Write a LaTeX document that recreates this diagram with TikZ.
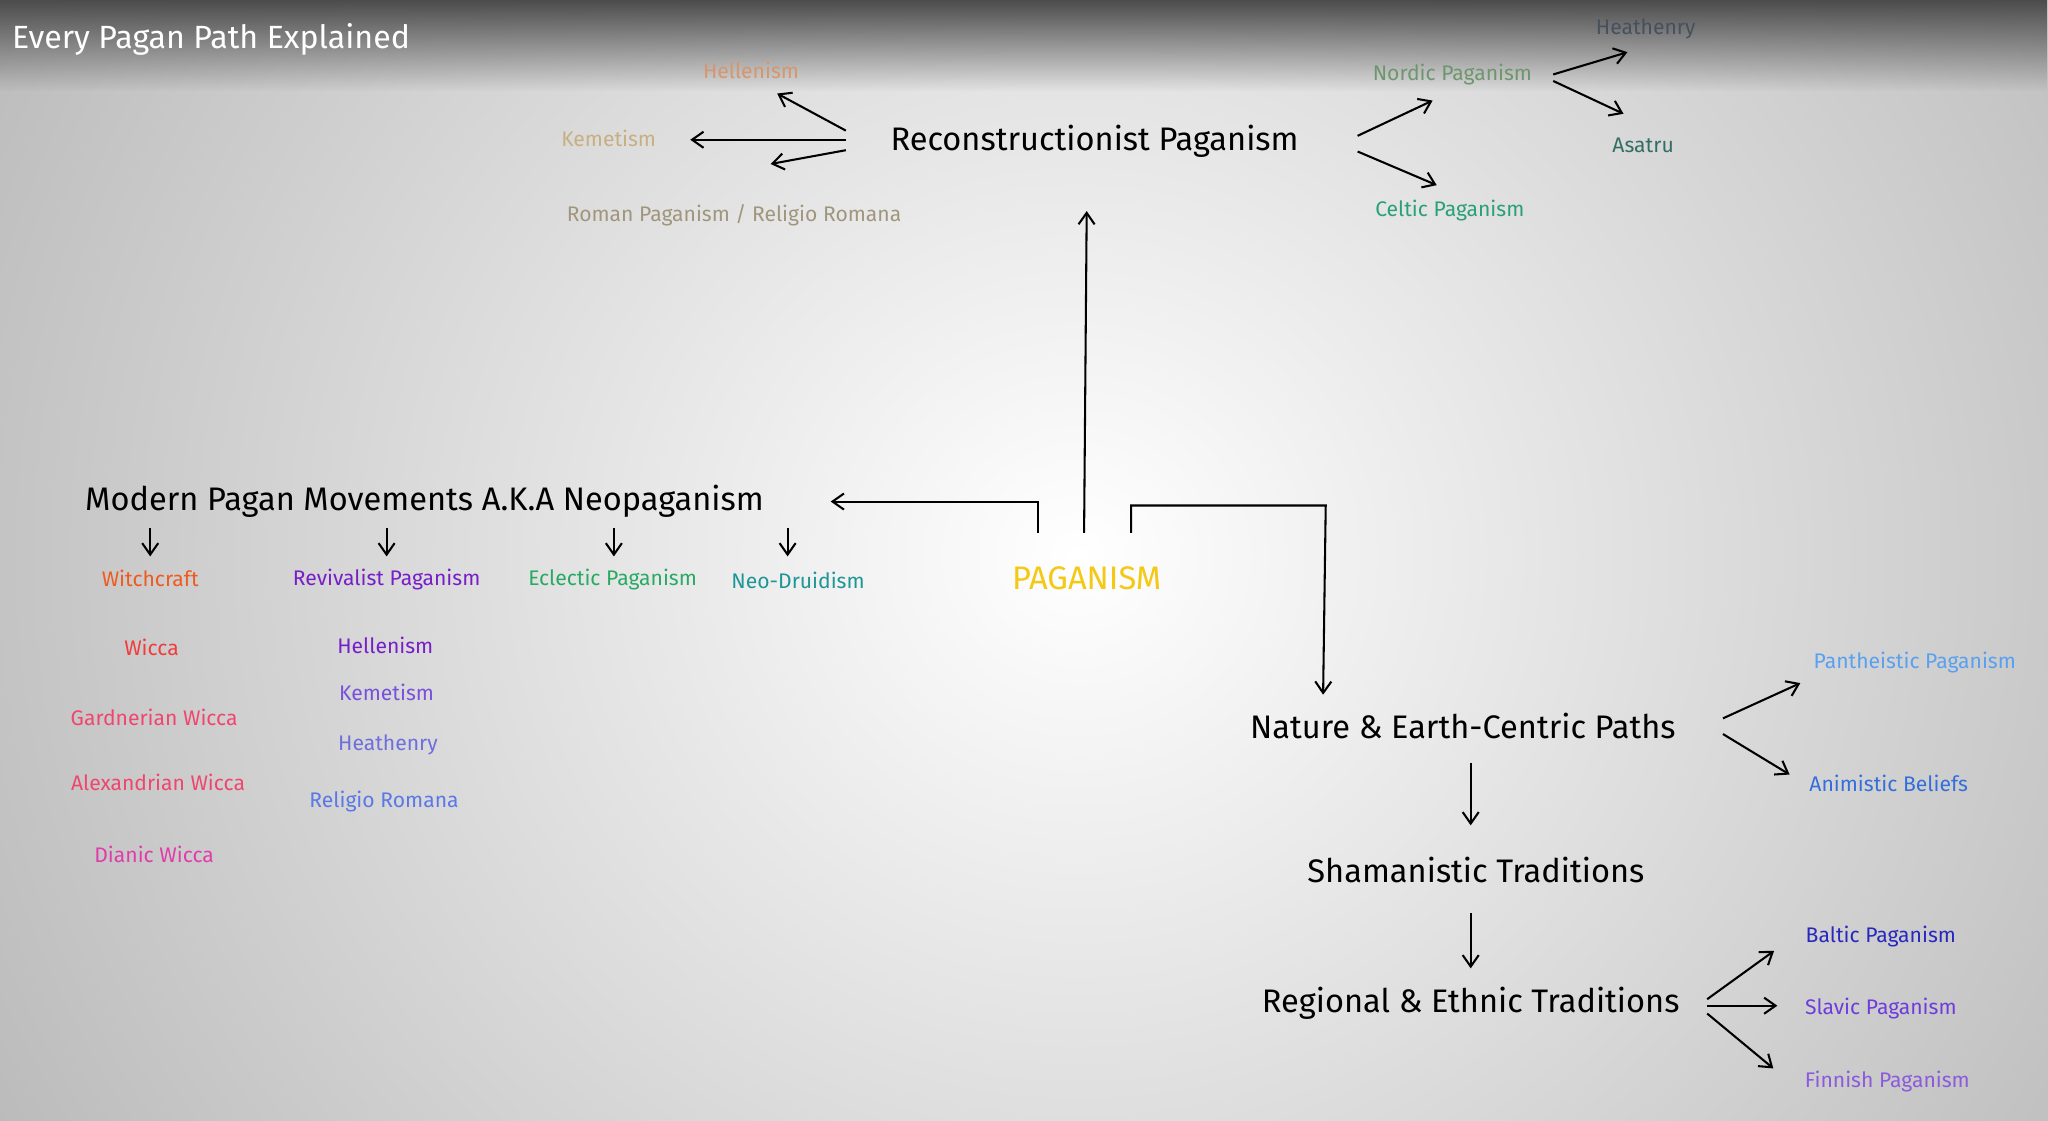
\documentclass[tikz,border=0pt]{standalone}
\usepackage{fontspec}
\setmainfont{Fira Sans}
\usepackage{xcolor}
\definecolor{HelOrange}{RGB}{214, 150, 110}
\definecolor{KemTan}{RGB}{200, 175, 130}
\definecolor{RomGray}{RGB}{160, 150, 125}
\definecolor{NordGreen}{RGB}{110, 150, 110}
\definecolor{HeathSlate}{RGB}{70, 80, 95}
\definecolor{AsaTeal}{RGB}{50, 110, 100}
\definecolor{CeltGreen}{RGB}{40, 160, 120}
\definecolor{WitchOrange}{RGB}{240, 90, 30}
\definecolor{RevPurple}{RGB}{120, 30, 200}
\definecolor{EclGreen}{RGB}{40, 170, 100}
\definecolor{DruTeal}{RGB}{30, 150, 150}
\definecolor{PagGold}{RGB}{245, 200, 20}
\definecolor{WicRed}{RGB}{240, 60, 60}
\definecolor{WicPink}{RGB}{240, 70, 110}
\definecolor{DiaPink}{RGB}{225, 60, 170}
\definecolor{RevViolet}{RGB}{120, 80, 220}
\definecolor{RevSlate}{RGB}{110, 110, 220}
\definecolor{RevBlue}{RGB}{90, 120, 230}
\definecolor{PanBlue}{RGB}{90, 160, 240}
\definecolor{AniBlue}{RGB}{50, 110, 220}
\definecolor{BalBlue}{RGB}{40, 40, 190}
\definecolor{SlaPurple}{RGB}{110, 60, 220}
\definecolor{FinPurple}{RGB}{140, 90, 220}
\usepackage{tikz}
\usetikzlibrary{arrows.meta, positioning, calc, fadings}

\begin{document}
\begin{tikzpicture}[
        x=0.02cm, y=-0.02cm,
        head/.style={font=\fontsize{14.2}{16}\selectfont, text=black},
        leaf/.style={font=\fontsize{9.2}{10}\selectfont},
        arr/.style={-{Straight Barb[length=5pt,width=7pt]}, line width=0.9pt, black}
    ]
        % background
        \useasboundingbox (0,0) rectangle (1568,858);
        \fill[gray!55] (0,0) rectangle (1568,858);
        \shade[inner color=white, outer color=gray!55] (-150,-500) rectangle (1800,1350);
        \fill[black!70, path fading=south] (0,0) rectangle (1568,70);
        \node[anchor=west, text=white, font=\fontsize{14}{16}\selectfont] (title) at (3,30) {Every Pagan Path Explained};

        % main topics
        \node[head] (recon) at (838,108) {Reconstructionist Paganism};
        \node[head] (modern) at (325,384) {Modern Pagan Movements A.K.A Neopaganism};
        \node[font=\fontsize{14.2}{16}\selectfont, text=PagGold] (pag) at (832,443) {PAGANISM};
        \node[head] (nature) at (1120,556) {Nature \& Earth-Centric Paths};
        \node[head] (shaman) at (1130,666) {Shamanistic Traditions};
        \node[head] (regional) at (1126,768) {Regional \& Ethnic Traditions};

        % reconstructionist paths
        \node[leaf, text=HelOrange] (hel) at (575,54) {Hellenism};
        \node[leaf, text=KemTan] (kem) at (466,106) {Kemetism};
        \node[leaf, text=RomGray] (rom) at (562,165) {Roman Paganism / Religio Romana};
        \node[leaf, text=NordGreen] (nord) at (1112,57) {Nordic Paganism};
        \node[leaf, text=HeathSlate] (heath) at (1260,22) {Heathenry};
        \node[leaf, text=AsaTeal] (asa) at (1258,111) {Asatru};
        \node[leaf, text=CeltGreen] (celt) at (1110,161) {Celtic Paganism};

        % modern movements
        \node[leaf, text=WitchOrange] (witch) at (115,443) {Witchcraft};
        \node[leaf, text=RevPurple] (reviv) at (296,444) {Revivalist Paganism};
        \node[leaf, text=EclGreen] (eclec) at (469,444) {Eclectic Paganism};
        \node[leaf, text=DruTeal] (druid) at (611,444) {Neo-Druidism};
        \node[leaf, text=WicRed] (wicca) at (116,496) {Wicca};
        \node[leaf, text=WicPink] (gard) at (118,549) {Gardnerian Wicca};
        \node[leaf, text=WicPink] (alex) at (121,599) {Alexandrian Wicca};
        \node[leaf, text=DiaPink] (dian) at (118,654) {Dianic Wicca};
        \node[leaf, text=RevPurple] (hel2) at (295,494) {Hellenism};
        \node[leaf, text=RevViolet] (kem2) at (296,530) {Kemetism};
        \node[leaf, text=RevSlate] (heath2) at (297,570) {Heathenry};
        \node[leaf, text=RevBlue] (relig) at (294,614) {Religio Romana};

        % nature and regional
        \node[leaf, text=PanBlue] (panth) at (1466,507) {Pantheistic Paganism};
        \node[leaf, text=AniBlue] (anim) at (1446,600) {Animistic Beliefs};
        \node[leaf, text=BalBlue] (balt) at (1440,717) {Baltic Paganism};
        \node[leaf, text=SlaPurple] (slav) at (1440,772) {Slavic Paganism};
        \node[leaf, text=FinPurple] (finn) at (1445,828) {Finnish Paganism};

        % connectors from paganism
        \draw[arr] ($(pag.north)+(-2,-20)$) -- ($(recon.south)+(-6,35)$);
        \draw[arr] ($(pag.north)+(-37,-20)$) |- ($(modern.east)+(45,0)$);
        \draw[arr] ($(pag.north)+(34,-20)$) |- (1015,387) -- ($(nature.north)+(-107,-8)$);

        % reconstructionist
        \draw[arr] ($(recon.west)+(-28,-8)$) -- ($(hel.south)+(20,5)$);
        \draw[arr] ($(recon.west)+(-28,-1)$) -- ($(kem.east)+(20,1)$);
        \draw[arr] ($(recon.west)+(-28,7)$) -- ($(rom.north)+(28,-25)$);
        \draw[arr] ($(recon.east)+(39,-4)$) -- ($(nord.west)+(52,20)$);
        \draw[arr] ($(recon.east)+(39,8)$) -- ($(celt.north)+(-10,-5)$);
        \draw[arr] ($(nord.east)+(10,0)$) -- ($(heath.south)+(-14,4)$);
        \draw[arr] ($(nord.east)+(10,5)$) -- ($(asa.north)+(-15,-12)$);

        % modern
        \foreach \n/\x in {witch/115, reviv/296, eclec/470, druid/603}
            \draw[arr] (\x,404) -- (\x,426);

        % nature
        \draw[arr] ($(nature.east)+(30,-6)$) -- ($(panth.west)+(-4,16)$);
        \draw[arr] ($(nature.east)+(30,6)$) -- ($(anim.west)+(-9,-7)$);
        \draw[arr] ($(nature.south)+(6,12)$) -- ($(shaman.north)+(-4,-18)$);
        \draw[arr] ($(shaman.south)+(-4,17)$) -- ($(regional.north)+(0,-8)$);

        % regional
        \draw[arr] ($(regional.east)+(15,-3)$) -- ($(balt.west)+(-18,11)$);
        \draw[arr] ($(regional.east)+(15,2)$) -- ($(slav.west)+(-15,-2)$);
        \draw[arr] ($(regional.east)+(15,8)$) -- ($(finn.west)+(-18,-10)$);
    \end{tikzpicture}
\end{document}
